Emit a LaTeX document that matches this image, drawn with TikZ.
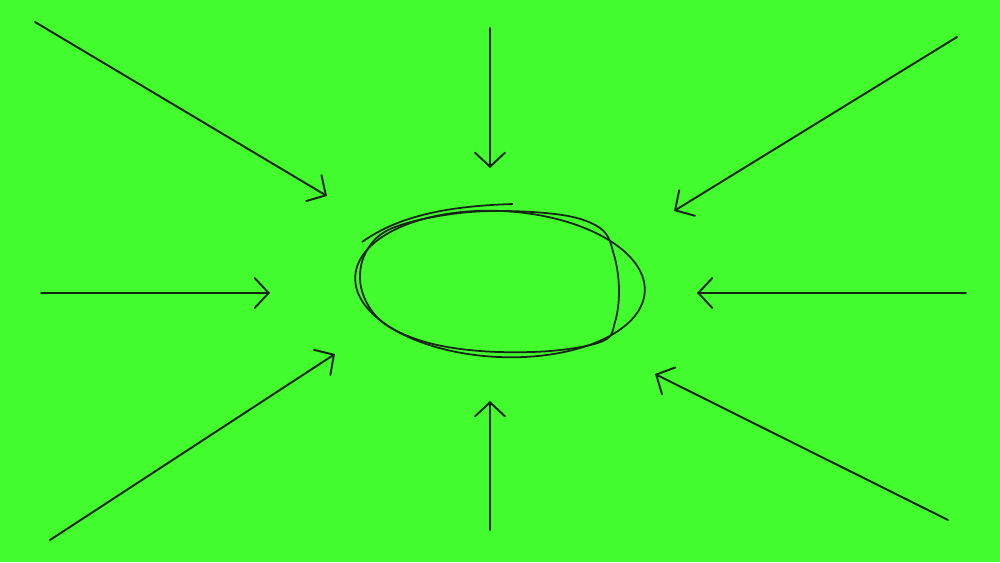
\documentclass[tikz,border=0pt]{standalone}
\usetikzlibrary{arrows.meta}
\definecolor{screen}{RGB}{66,252,46}
\definecolor{ink}{RGB}{22,38,22}

\begin{document}
\begin{tikzpicture}[x=0.02cm, y=-0.02cm,
    pointer/.style={ink, line width=1.1pt, line cap=round,
      -{Straight Barb[length=0.28cm, width=0.6cm, line cap=round]}},
    scribble/.style={ink, line width=1pt}]
      \fill[screen] (0,0) rectangle (1000,562);
      \useasboundingbox (0,0) rectangle (1000,562);
      % start and tip of each arrow
      \coordinate (NWs) at (35,22);   \coordinate (NWt) at (327,196);
      \coordinate (Ns)  at (490,28);  \coordinate (Nt)  at (490,168);
      \coordinate (NEs) at (957,37);  \coordinate (NEt) at (674,211);
      \coordinate (Ws)  at (41,293);  \coordinate (Wt)  at (270,293);
      \coordinate (Es)  at (966,293); \coordinate (Et)  at (697,293);
      \coordinate (SWs) at (50,540);  \coordinate (SWt) at (335,354);
      \coordinate (Ss)  at (490,530); \coordinate (St)  at (490,401);
      \coordinate (SEs) at (948,520); \coordinate (SEt) at (655,374);
      \foreach \d in {NW,N,NE,W,E,SW,S,SE}
        \draw[pointer] (\d s) -- (\d t);
      % hand drawn ring
      \coordinate (ring) at (500,284);
      \draw[scribble, rotate around={-3:(ring)}] (ring)
        ellipse [x radius=2.9cm, y radius=1.46cm];
      \draw[scribble] plot[smooth cycle, tension=0.6] coordinates {
        (470,212) (555,214) (600,228) (614,255) (619,290) (615,322)
        (603,341) (550,351) (480,351) (422,341) (380,320) (361,287)
        (366,252) (395,227)};
      \draw[scribble] (362,242) .. controls (400,215) and (450,206) .. (513,204);
    \end{tikzpicture}
\end{document}
